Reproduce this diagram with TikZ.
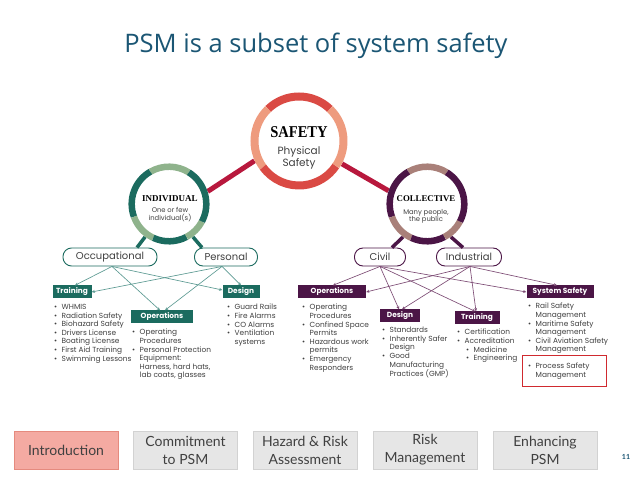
\documentclass[tikz,border=0pt]{standalone}
\usepackage{fontspec}
\usepackage{graphicx}
\setmainfont{Poppins}
\newfontfamily\titlefont{Open Sans}
\newfontfamily\tabfont{Lato}
\newfontfamily\serifb{Liberation Serif}
\newfontfamily\lstfont{Poppins}
\usetikzlibrary{arrows.meta}
\definecolor{titleblue}{HTML}{1B5674}
\definecolor{sred}{HTML}{DA4A44}
\definecolor{ssalmon}{HTML}{EE9B7E}
\definecolor{crim}{HTML}{B8183D}
\definecolor{tealD}{HTML}{1B6B5F}
\definecolor{sage}{HTML}{8FB38C}
\definecolor{purD}{HTML}{4B1546}
\definecolor{mauve}{HTML}{A98079}
\definecolor{txt}{HTML}{404040}
\definecolor{tealL}{HTML}{5C9A92}
\definecolor{purL}{HTML}{7D4C75}
\definecolor{boxred}{HTML}{D02A2F}
\definecolor{tabpink}{HTML}{F4AAA2}
\definecolor{tabpinkB}{HTML}{E58A7E}
\definecolor{tabgrey}{HTML}{E6E6E6}
\definecolor{tabgreyB}{HTML}{D2D2D2}
\newcommand\bu{\makebox[7.5pt][l]{•}}
\newcommand\ct{\hspace*{7.5pt}}
\begin{document}
\begin{tikzpicture}[x=1pt,y=-1pt,
  ringnode/.style={circle, inner sep=0pt},
  pillT/.style={draw=tealD, line width=0.9pt, rounded corners=8.5pt, fill=white, minimum height=18pt, inner sep=0pt, text=txt, font=\fontsize{10}{10}\selectfont},
  pillP/.style={pillT, draw=purD},
  boxT/.style={fill=tealD, text=white, font=\bfseries\fontsize{7.4}{7.4}\selectfont, minimum height=13pt, inner sep=0pt},
  boxP/.style={boxT, fill=purD},
  arrT/.style={draw=tealL, line width=0.65pt, -{Stealth[length=3.2pt,width=3pt]}},
  arrP/.style={arrT, draw=purL},
  lst/.style={anchor=north west, align=left, inner sep=0pt, text=txt, font=\lstfont\fontsize{7.4}{8.6}\selectfont},
  tab/.style={draw=tabgreyB, fill=tabgrey, minimum width=104pt, minimum height=38pt, inner sep=0pt, align=center, text=txt, font=\tabfont\fontsize{14}{18}\selectfont},
  tabsel/.style={tab, draw=tabpinkB, fill=tabpink}
]
\useasboundingbox[fill=white] (0,0) rectangle (638,478);

% title
\node[anchor=base, font=\titlefont\fontsize{25.5}{25.5}\selectfont, text=titleblue] (title) at (316,53) {PSM is a subset of system safety};

% circles (nodes)
\node[ringnode, minimum size=97pt] (S) at (299,141) {};
\node[ringnode, minimum size=81pt] (I) at (169,204) {};
\node[ringnode, minimum size=81pt] (C) at (427,204) {};

% crimson connectors
\draw[crim, line width=5pt] (S.204) -- (I.18);
\draw[crim, line width=5pt] (S.-28) -- (C.161);

% pills
\node[pillT, minimum width=94pt] (occ) at (110,257) {Occupational};
\node[pillT, minimum width=63pt] (per) at (226,257) {Personal};
\node[pillP, minimum width=51pt] (civ) at (380,257) {Civil};
\node[pillP, minimum width=65pt] (ind) at (469,257) {Industrial};

% thick connectors circle -> pills
\draw[tealD, line width=3.5pt] (I.234) -- ([xshift=27pt]occ.north);
\draw[tealD, line width=3.5pt] (I.306) -- ([xshift=-24pt]per.north);
\draw[purD, line width=3.5pt] (C.234) -- ([xshift=12pt]civ.north);
\draw[purD, line width=3.5pt] (C.306) -- ([xshift=-6pt]ind.north);

% rings
\foreach \a/\b/\c in {46/134/sred,134/216/ssalmon,216/326/sred,326/406/ssalmon}
  \draw[\c, line width=8pt] (S.center) ++(\a:44.5pt) arc[start angle=\a, end angle=\b, radius=44.5pt];
\foreach \a/\b/\c in {58/120/sage,120/200/tealD,200/245/sage,245/298/tealD,298/332/sage,332/418/tealD}
  \draw[\c, line width=6.5pt] (I.center) ++(\a:37.3pt) arc[start angle=\a, end angle=\b, radius=37.3pt];
\foreach \a/\b/\c in {58/120/mauve,120/200/purD,200/245/mauve,245/298/purD,298/332/mauve,332/418/purD}
  \draw[\c, line width=6.5pt] (C.center) ++(\a:37.3pt) arc[start angle=\a, end angle=\b, radius=37.3pt];

% circle texts
\node[anchor=base, inner sep=0pt] (st) at (299,138) {\scalebox{0.88}[1]{\serifb\bfseries\fontsize{16.5}{16.5}\selectfont SAFETY}};
\node[anchor=base, inner sep=0pt, text=txt, font=\fontsize{10.5}{10.5}\selectfont] (st1) at (299,154.5) {Physical};
\node[anchor=base, inner sep=0pt, text=txt, font=\fontsize{10.5}{10.5}\selectfont] (st2) at (299,167) {Safety};
\node[anchor=base, inner sep=0pt, font=\serifb\bfseries\fontsize{9}{9}\selectfont] (it) at (170,201.5) {INDIVIDUAL};
\node[anchor=base, inner sep=0pt, text=txt, font=\fontsize{6.8}{6.8}\selectfont] (it1) at (170,213) {One or few};
\node[anchor=base, inner sep=0pt, text=txt, font=\fontsize{6.8}{6.8}\selectfont] (it2) at (170,220.5) {individual(s)};
\node[anchor=base, inner sep=0pt, font=\serifb\bfseries\fontsize{8.8}{8.8}\selectfont] (ct) at (426,201.5) {COLLECTIVE};
\node[anchor=base, inner sep=0pt, text=txt, font=\fontsize{6.8}{6.8}\selectfont] (ct1) at (426,214.5) {Many people,};
\node[anchor=base, inner sep=0pt, text=txt, font=\fontsize{6.8}{6.8}\selectfont] (ct2) at (426,222) {the public};

% boxes
\node[boxT, minimum width=39pt] (trL) at (72,292) {Training};
\node[boxT, minimum width=37pt] (deL) at (241,292) {Design};
\node[boxT, minimum width=62pt] (opL) at (162,317) {Operations};
\node[boxP, minimum width=68pt] (opR) at (332,292) {Operations};
\node[boxP, minimum width=40pt] (deR) at (400,316) {Design};
\node[boxP, minimum width=45pt] (trR) at (477,318) {Training};
\node[boxP, minimum width=67pt] (ssR) at (560,292) {System Safety};

% thin connectors left
\draw[arrT] ([xshift=2pt]occ.south) -- ([xshift=3pt]trL.north);
\draw[arrT] ([xshift=2pt]occ.south) -- ([xshift=-2pt]opL.north);
\draw[arrT] ([xshift=2pt]occ.south) -- ([yshift=2pt]deL.west);
\draw[arrT] ([xshift=-4pt]per.south) -- (trL.east);
\draw[arrT] ([xshift=-4pt]per.south) -- ([xshift=3pt]opL.north);
\draw[arrT] ([xshift=-4pt]per.south) -- (deL.north);
% thin connectors right
\draw[arrP] (civ.south) -- ([xshift=1pt]opR.north);
\draw[arrP] (civ.south) -- ([xshift=-1pt]deR.north);
\draw[arrP] (civ.south) -- ([xshift=-2pt]trR.north);
\draw[arrP] (civ.south) -- (ssR.west);
\draw[arrP] ([xshift=1pt]ind.south) -- (opR.east);
\draw[arrP] ([xshift=1pt]ind.south) -- ([xshift=2pt]deR.north);
\draw[arrP] ([xshift=1pt]ind.south) -- ([xshift=-1pt]trR.north);
\draw[arrP] ([xshift=1pt]ind.south) -- ([xshift=-3pt]ssR.north);

% lists
\node[lst] (l1) at (54,304) {\bu WHMIS\\ \bu Radiation Safety\\ \bu Biohazard Safety\\ \bu Drivers License\\ \bu Boating License\\ \bu First Aid Training\\ \bu Swimming Lessons};
\node[lst] (l2) at (132,329) {\bu Operating\\ \ct Procedures\\ \bu Personal Protection\\ \ct Equipment:\\ \ct Harness, hard hats,\\ \ct lab coats, glasses};
\node[lst] (l3) at (227,304) {\bu Guard Rails\\ \bu Fire Alarms\\ \bu CO Alarms\\ \bu Ventilation\\ \ct systems};
\node[lst] (l4) at (302,304) {\bu Operating\\ \ct Procedures\\ \bu Confined Space\\ \ct Permits\\ \bu Hazardous work\\ \ct permits\\ \bu Emergency\\ \ct Responders};
\node[lst] (l5) at (382,327) {\bu Standards\\ \bu Inherently Safer\\ \ct Design\\ \bu Good\\ \ct Manufacturing\\ \ct Practices (GMP)};
\node[lst] (l6) at (457,329) {\bu Certification\\ \bu Accreditation\\ \hspace*{9pt}\bu Medicine\\ \hspace*{9pt}\bu Engineering};
\node[lst] (l7) at (528,303) {\bu Rail Safety\\ \ct Management\\ \bu Maritime Safety\\ \ct Management\\ \bu Civil Aviation Safety\\ \ct Management};
\node[draw=boxred, line width=1pt, minimum width=84pt, minimum height=31pt, inner sep=0pt] (psm) at (564,371.5) {};
\node[lst] (l8) at (528,363) {\bu Process Safety\\ \ct Management};

% tabs
\node[tabsel] (t1) at (66,450) {Introduction};
\node[tab] (t2) at (185.5,450) {Commitment\\to PSM};
\node[tab] (t3) at (305,450) {Hazard \& Risk\\Assessment};
\node[tab] (t4) at (425,450) {Risk\\Management};
\node[tab] (t5) at (545,450) {Enhancing\\PSM};
\node[font=\tabfont\bfseries\fontsize{7}{7}\selectfont, text=titleblue] (pg) at (626,457) {11};
\end{tikzpicture}
\end{document}
